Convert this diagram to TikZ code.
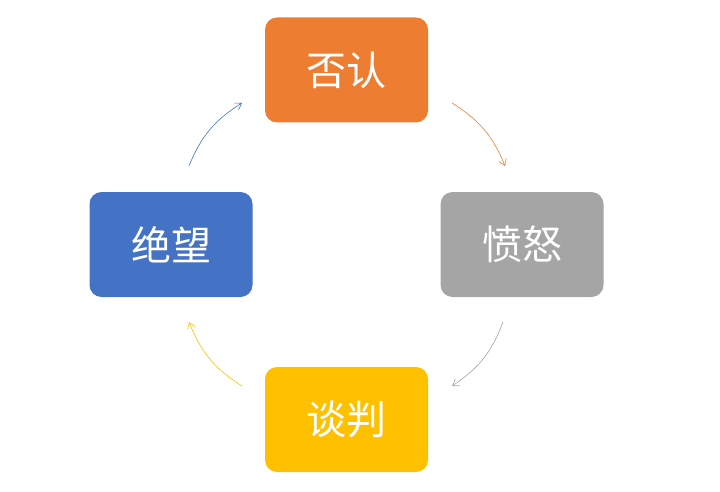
\documentclass[tikz,border=0pt]{standalone}
\usepackage{fontspec}
\usetikzlibrary{arrows.meta}
\newfontfamily\cjk{Noto Sans CJK SC}
\definecolor{cOr}{HTML}{ED7D31}
\definecolor{cGr}{HTML}{A5A5A5}
\definecolor{cYe}{HTML}{FFC000}
\definecolor{cBl}{HTML}{4472C4}
\begin{document}
\begin{tikzpicture}[x=1pt,y=-1pt,
  stage/.style={rounded corners=12pt,minimum width=163pt,minimum height=105pt,inner sep=0,text=white,font=\cjk\fontsize{40}{40}\selectfont},
  arr/.style={-{Straight Barb[length=6pt,width=8pt]},line width=0.6pt}]
\useasboundingbox (0,0) rectangle (720,492);
\node[stage,fill=cOr] (top) at (346.5,70) {否认};
\node[stage,fill=cGr] (right) at (522,244.5) {愤怒};
\node[stage,fill=cYe] (bottom) at (346.5,419.5) {谈判};
\node[stage,fill=cBl] (left) at (171,244.5) {绝望};
\coordinate (a1) at (452,103); \coordinate (a2) at (505,166);
\coordinate (b1) at (503,322); \coordinate (b2) at (452,386);
\coordinate (c1) at (242,386); \coordinate (c2) at (189,322);
\coordinate (d1) at (189,166); \coordinate (d2) at (242,103);
\draw[arr,cOr] (a1) to[bend left=18] (a2);
\draw[arr,cGr] (b1) to[bend left=18] (b2);
\draw[arr,cYe] (c1) to[bend left=18] (c2);
\draw[arr,cBl] (d1) to[bend left=18] (d2);
\end{tikzpicture}
\end{document}
